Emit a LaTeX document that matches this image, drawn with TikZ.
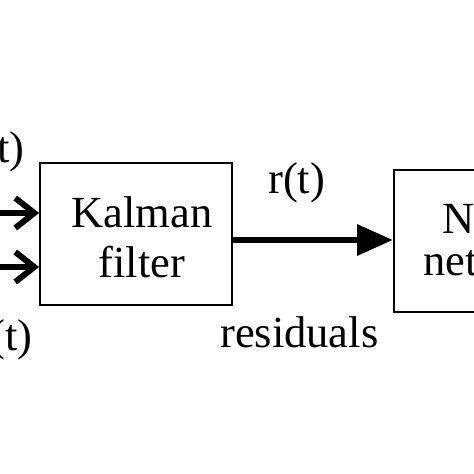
\documentclass[tikz,border=0pt]{standalone}
\usepackage{fontspec}
\setmainfont{Liberation Serif}
\usetikzlibrary{arrows.meta}
\tikzset{
  blk/.style={draw=black, line width=1.8pt, rectangle, inner sep=0pt},
  lbl/.style={inner sep=0pt, align=center, font=\fontsize{44.5}{50}\selectfont},
  inarrow/.style={line width=6pt, -{Straight Barb[length=19pt,width=30pt,line width=6pt]}},
  mainarrow/.style={line width=6.5pt, -{Triangle[length=36pt,width=30pt]}}
}
\begin{document}
\begin{tikzpicture}[x=1pt,y=-1pt]
\useasboundingbox (0,0) rectangle (474,474);
\fill[white] (0,0) rectangle (474,474);
\clip (0,0) rectangle (474,474);
% Kalman filter box
\node[blk, minimum width=192pt, minimum height=142pt] (kf) at (136,234) {};
\node[lbl] (kft) at (142,237) {Kalman\\filter};
% right box (cut off)
\node[blk, minimum width=170pt, minimum height=142pt, anchor=west] (nn) at (393,241) {};
\node[lbl, anchor=base west] (nnN) at (442,233) {N};
\node[lbl, anchor=base west] (nnnet) at (423,275) {net};
% inputs
\coordinate (in1) at (-10,213);
\coordinate (in2) at (-10,267);
\draw[inarrow] (in1) -- (in1 -| kf.west);
\draw[inarrow] (in2) -- (in2 -| kf.west);
\node[lbl, anchor=base east] (lt) at (25,162) {t)};
\node[lbl, anchor=base east] (lb) at (33,350) {(t)};
% main arrow
\draw[mainarrow] (kf.east |- 0,240) -- (nn.west |- 0,240);
\node[lbl, anchor=base west] (rt) at (268,193) {r(t)};
\node[lbl, anchor=base west] (res) at (220,347) {residuals};
\end{tikzpicture}
\end{document}
